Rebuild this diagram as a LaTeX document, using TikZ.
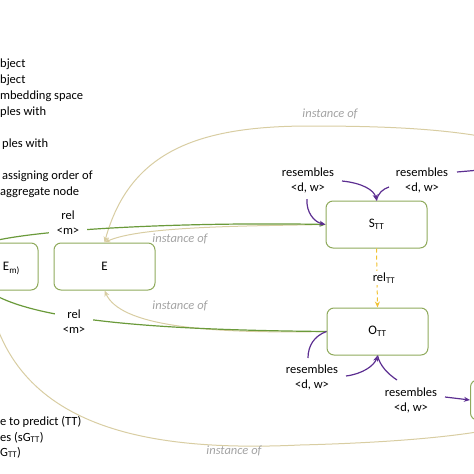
\documentclass[tikz,border=0pt]{standalone}
\usepackage{fontspec}
\setmainfont{Carlito}
\usetikzlibrary{arrows.meta}
\definecolor{boxgreen}{HTML}{8FAA5C}
\definecolor{relgreen}{HTML}{6A9A3A}
\definecolor{insttan}{HTML}{D8CDA2}
\definecolor{respurple}{HTML}{5C2E91}
\definecolor{relamber}{HTML}{F1C232}
\definecolor{instgrey}{HTML}{A3A3A3}
\begin{document}
\begin{tikzpicture}[x=1pt, y=-1pt, >={Stealth[length=6pt,width=5pt]},
  font=\fontsize{12.5}{15}\selectfont,
  box/.style={draw=boxgreen, line width=1pt, rounded corners=7pt, minimum width=101pt, minimum height=47pt, inner sep=0pt, font=\fontsize{13}{15}\selectfont},
  rel/.style={relgreen, line width=1.2pt},
  inst/.style={insttan, line width=1pt},
  instlabel/.style={text=instgrey, font=\fontsize{12.5}{15}\selectfont\itshape, inner sep=1pt},
  res/.style={respurple, line width=1.2pt},
  lbl/.style={align=center, inner sep=0pt},
  legend/.style={anchor=base west, inner sep=0pt, font=\fontsize{12.5}{15}\selectfont}]
\useasboundingbox (0,0) rectangle (474,474);
\clip (0,0) rectangle (474,474);

% legend, as far as it shows at the left edge
\foreach \ex/\ey/\txt [count=\i] in {0/67/bject, 0/83/bject, 0/99/mbedding space, 0/115/ples with,
    2/147/ples with, 2/179/assigning order of, 0/195/aggregate node,
    0/425/e to predict (TT), 0/441/es (sG\textsubscript{TT}), 0/456/G\textsubscript{TT})}
  \node[legend] (leg\i) at (\ex,\ey) {\txt};

% boxes
\node[box] (Em) at (-12.5,266.5) {};
\node[legend, anchor=base east, font=\fontsize{13}{15}\selectfont] (emlbl) at (20,270.5) {E\textsubscript{m)}};
\node[box] (E) at (104.5,266.5) {E};
\node[box] (S) at (376.5,224.5) {S\textsubscript{TT}};
\node[box] (O) at (377.5,331.5) {O\textsubscript{TT}};
\node[box, minimum height=40pt] (RB) at (521,400) {};
\coordinate (instR) at (540,150);

% instance of
\draw[inst,->] (instR) .. controls (480,132) and (420,126) .. (310,126)
  .. controls (200,126) and (130,150) .. (E.north);
\draw[inst,->] (S.west) .. controls (250,226) and (140,226) .. (E.north);
\draw[inst,->] (O.west) .. controls (200,334) and (120,325) .. (E.south);
\draw[inst] (RB.south) .. controls (500,432) and (420,442) .. (300,445)
  .. controls (150,452) and (10,430) .. (Em.south);
\node[instlabel] (instA) at (330,114) {instance of};
\node[instlabel] (instB) at (180,239) {instance of};
\node[instlabel] (instC) at (180,306) {instance of};
\node[instlabel] (instD) at (234,451) {instance of};

% rel <m>
\draw[rel,->] (Em.north) .. controls (40,228) and (200,222) .. (S.west);
\draw[rel] (O.west) .. controls (150,330) and (30,320) .. (Em.south);
\node[lbl, fill=white, inner xsep=8pt, inner ysep=1pt] (relA) at (68,223) {rel\\<m>};
\node[lbl, fill=white, inner xsep=8pt, inner ysep=1pt] (relB) at (74,321.5) {rel\\<m>};

% rel TT
\draw[relamber, line width=1pt, dash pattern=on 4pt off 3pt, ->] (S.south) -- (O.north);
\node[lbl, fill=white, inner sep=2pt] (relTT) at (384,278) {rel\textsubscript{TT}};

% resembles
\node[lbl] (resA) at (308,180.5) {resembles\\<d, w>};
\node[lbl] (resB) at (422,180.5) {resembles\\<d, w>};
\node[lbl] (resC) at (312,377) {resembles\\<d, w>};
\node[lbl] (resD) at (411,400) {resembles\\<d, w>};
\coordinate (ra) at (307,199);
\coordinate (rb) at (342,181);
\coordinate (rc) at (389,187);
\coordinate (rd) at (457,172);
\coordinate (re) at (308,358);
\coordinate (rf) at (346,376);
\coordinate (rg) at (397,380);
\coordinate (rh) at (445,397);
\draw[res,->] (ra) .. controls (306,212) and (314,222) .. (S.west);
\draw[res,->] (rb) .. controls (362,183) and (374,190) .. (S.north);
\draw[res] (S.north) .. controls (378,193) and (383,189) .. (rc);
\draw[res] (rd) -- (480,170);
\draw[res] (O.west) .. controls (314,336) and (308,346) .. (re);
\draw[res,->] (rf) .. controls (362,374) and (374,366) .. (O.south);
\draw[res] (O.south) .. controls (380,366) and (388,374) .. (rg);
\draw[res,->] (rh) -- (RB.west);
\end{tikzpicture}
\end{document}
